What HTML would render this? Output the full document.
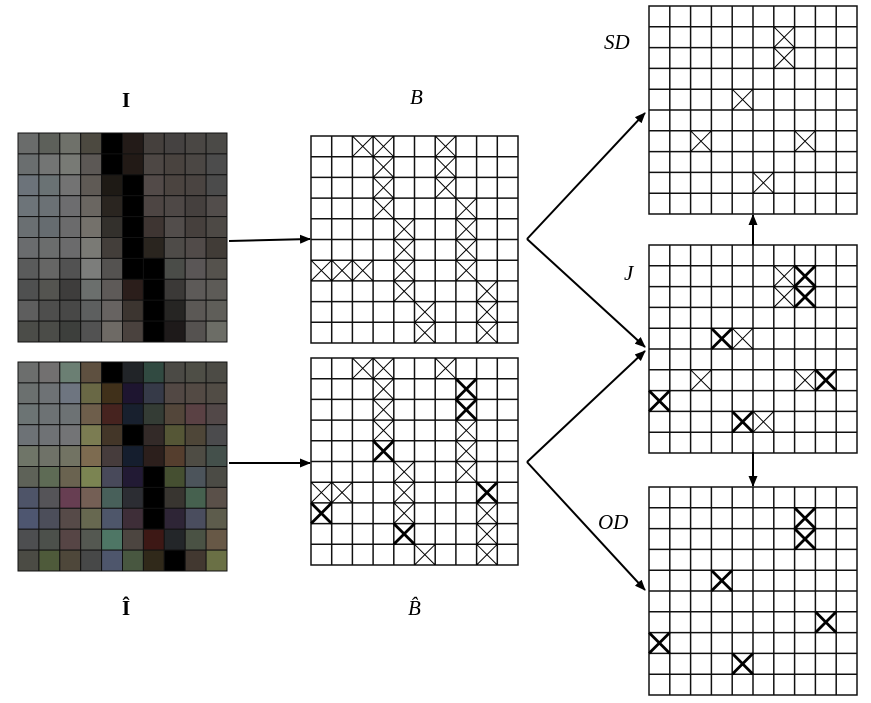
<!DOCTYPE html>
<html><head><meta charset="utf-8"><style>
html,body{margin:0;padding:0;background:#fff;width:871px;height:703px;overflow:hidden}
svg{display:block}
text{font-family:"Liberation Serif",serif;font-size:21px;fill:#000}
</style></head><body>
<svg id="s" width="871" height="703" viewBox="0 0 871 703">
<defs><marker id="ah" markerWidth="11" markerHeight="9" refX="10" refY="4.5" orient="auto" markerUnits="userSpaceOnUse"><path d="M0,0 L11,4.5 L0,9 z" fill="#000"/></marker></defs>
<g id="g"></g>
<g stroke="#000" stroke-width="2" fill="none">
<line x1="229" y1="241" x2="310" y2="239" marker-end="url(#ah)"/>
<line x1="229" y1="463" x2="310" y2="463" marker-end="url(#ah)"/>
<line x1="527" y1="239" x2="645" y2="113" marker-end="url(#ah)"/>
<line x1="527" y1="239" x2="645" y2="347" marker-end="url(#ah)"/>
<line x1="527" y1="462" x2="645" y2="351" marker-end="url(#ah)"/>
<line x1="527" y1="462" x2="645" y2="590" marker-end="url(#ah)"/>
<line x1="753" y1="245" x2="753" y2="215" marker-end="url(#ah)"/>
<line x1="753" y1="452" x2="753" y2="486" marker-end="url(#ah)"/>
</g>
<text x="122" y="107" font-weight="bold">I</text>
<text x="410" y="104" font-style="italic">B</text>
<text x="122" y="615" font-weight="bold">Î</text>
<text x="408" y="615" font-style="italic">B̂</text>
<text x="604" y="49" font-style="italic">SD</text>
<text x="624" y="280" font-style="italic">J</text>
<text x="598" y="529" font-style="italic">OD</text>
</svg>
<script>
var NS="http://www.w3.org/2000/svg",G=document.getElementById("g");
function el(t,a){var e=document.createElementNS(NS,t);for(var k in a)e.setAttribute(k,a[k]);G.appendChild(e);return e;}
function img(x0,y0,w,cols){var c=w/10;for(var r=0;r<10;r++)for(var q=0;q<10;q++)el("rect",{x:x0+q*c,y:y0+r*c,width:c,height:c,fill:cols[r][q],stroke:"#111","stroke-width":1});}
function grid(x0,y0,w,thin,bold){var c=w/10;el("rect",{x:x0,y:y0,width:w,height:w,fill:"#fff",stroke:"#111","stroke-width":1.5});
for(var i=1;i<10;i++){el("line",{x1:x0+i*c,y1:y0,x2:x0+i*c,y2:y0+w,stroke:"#111","stroke-width":1.5});el("line",{x1:x0,y1:y0+i*c,x2:x0+w,y2:y0+i*c,stroke:"#111","stroke-width":1.5});}
function X(p,sw){var x=x0+p[0]*c,y=y0+p[1]*c;el("line",{x1:x,y1:y,x2:x+c,y2:y+c,stroke:"#000","stroke-width":sw});el("line",{x1:x+c,y1:y,x2:x,y2:y+c,stroke:"#000","stroke-width":sw});}
thin.forEach(function(p){X(p,1.0)});bold.forEach(function(p){X(p,2.8)});}
var I=[["#6a6c6b","#5d605a","#6f716a","#4c4940","#000","#231b18","#45403d","#454241","#4a4744","#4b4a47"],
["#6a6e6f","#737574","#787a75","#5c5855","#000","#221a16","#4d4744","#49433f","#4b4744","#4c4c4c"],
["#6c737a","#6a7274","#737373","#5f5a55","#1e1a15","#000","#524a48","#4b4440","#4a4441","#4b4b4b"],
["#6d7479","#6b7175","#6d6d6f","#6a6661","#2a2520","#000","#4d4543","#4e4846","#45403e","#524d4b"],
["#6a6f72","#666c70","#6b6b6c","#74716b","#33302c","#000","#3e3532","#524d4b","#46403d","#4d4945"],
["#6a6c6e","#6b6d6d","#6b6b6c","#7a7a75","#433e3a","#000","#2a251f","#4e4b48","#514b49","#413c37"],
["#5a5b5b","#666665","#525252","#7c7d7b","#545250","#000","#000","#4a4c48","#5a5656","#55524d"],
["#4f5050","#545450","#3e3d3c","#6b6f6d","#5e5a58","#2b1e1b","#000","#3b3937","#5d5a58","#5d5b57"],
["#5e5e5e","#4e4e4d","#484847","#5d5f5f","#676361","#3c3530","#000","#262523","#5b5855","#5f5e59"],
["#4b4c48","#4b4c48","#3d3f3c","#525252","#6e6a65","#4a423e","#000","#1e1a1a","#555250","#6c6d66"]];
var J=[["#6c6e6d","#727070","#6b7f73","#5e5040","#000","#212428","#314a41","#4b4a45","#4e4e46","#4c4b45"],
["#6b706f","#6e7275","#6e7580","#696845","#40301a","#1e1530","#363a48","#524844","#534a44","#514c45"],
["#6c7474","#6d7274","#6d7274","#6e5e4b","#46231f","#18202e","#343c35","#53463a","#5a4144","#524848"],
["#6d7276","#6f7275","#737476","#7b7c52","#433628","#000","#332a28","#555636","#4e4638","#4b4b4d"],
["#6f7568","#6f7268","#727363","#7d6b50","#463c3c","#151e2e","#2c1f1c","#553e2e","#4e4c44","#44504b"],
["#5e6258","#5e6b55","#6a6350","#7b8452","#48495a","#221a34","#000","#454f31","#4c545b","#4b4b45"],
["#4e5468","#555458","#673e52","#745f55","#48605a","#2c2d33","#000","#383530","#46614f","#5a5049"],
["#4e5670","#4c4e5a","#564a48","#676850","#4e566a","#3e2e38","#000","#2e2536","#4a4d5e","#5d5c4c"],
["#4d4e50","#4c504b","#564545","#545851","#4e7665","#4c4540","#3d1815","#232629","#4a5244","#675846"],
["#4b4b44","#4e5a3a","#4e473a","#474848","#4e566c","#485740","#30291a","#000","#423830","#6a7045"]];
img(18,133,209,I);img(18,362,209,J);
grid(311,136,207,[[2,0],[3,0],[6,0],[3,1],[6,1],[3,2],[6,2],[3,3],[7,3],[4,4],[7,4],[4,5],[7,5],[0,6],[1,6],[2,6],[4,6],[7,6],[4,7],[8,7],[5,8],[8,8],[5,9],[8,9]],[]);
grid(311,358,207,[[2,0],[3,0],[6,0],[3,1],[3,2],[3,3],[7,3],[7,4],[4,5],[7,5],[0,6],[1,6],[4,6],[4,7],[8,7],[8,8],[5,9],[8,9]],[[7,1],[7,2],[3,4],[8,6],[0,7],[4,8]]);
grid(649,245,208,[[6,1],[6,2],[4,4],[2,6],[7,6],[5,8]],[[7,1],[7,2],[3,4],[8,6],[0,7],[4,8]]);
grid(649,6,208,[[6,1],[6,2],[4,4],[2,6],[7,6],[5,8]],[]);
grid(649,487,208,[],[[7,1],[7,2],[3,4],[8,6],[0,7],[4,8]]);
</script>
</body></html>
